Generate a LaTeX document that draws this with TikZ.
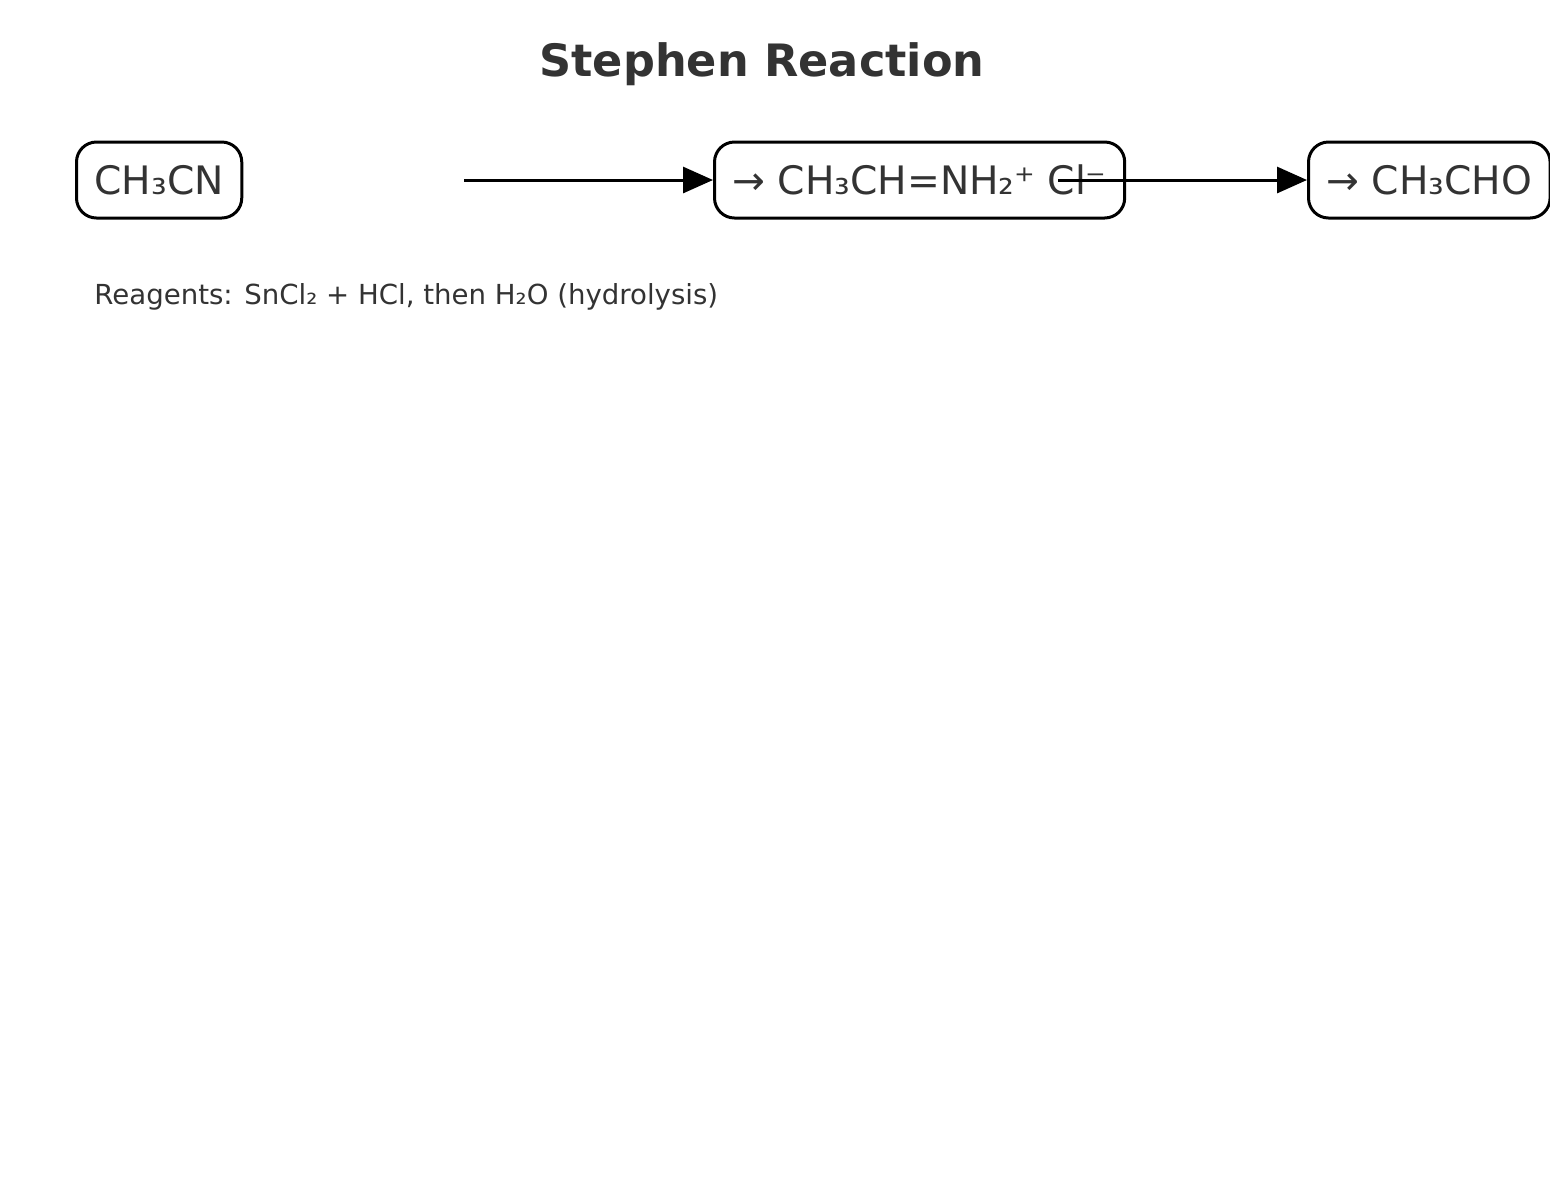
\documentclass[tikz,border=0pt]{standalone}
\usepackage{fontspec}
\setmainfont{DejaVu Sans}
\usetikzlibrary{arrows.meta}
\definecolor{txtgray}{HTML}{333333}
\tikzset{
  molbox/.style={draw=black, line width=1.5pt, rounded corners=10pt, anchor=west,
    inner xsep=9pt, minimum height=38pt, text=txtgray, font=\fontsize{19.6}{23}\selectfont},
  rxnarrow/.style={line width=1.5pt, -{Triangle[length=15pt,width=13pt]}}
}
\begin{document}
\begin{tikzpicture}[x=0.5pt,y=-0.5pt]
  \def\rowA{180};
  \useasboundingbox (0,0) rectangle (1550,1180);
  \node (title) at (762,64) [text=txtgray, font=\bfseries\fontsize{22.3}{26}\selectfont] {Stephen Reaction};
  %
  \node[molbox] (nitrile) at (75,\rowA) {CH₃CN};
  \node[molbox] (iminium) at (713,\rowA) {→ CH₃CH=NH₂⁺ Cl⁻};
  \node[molbox] (aldehyde) at (1307,\rowA) {→ CH₃CHO};
  %
  \coordinate (startA) at (464,\rowA);
  \coordinate (startB) at (1058,\rowA);
  \draw[rxnarrow] (startA) -- (iminium.west);
  \draw[rxnarrow] (startB) -- (aldehyde.west);
  %
  \node (reagents) at (94,297) [anchor=west, inner sep=0pt, text=txtgray, font=\fontsize{13.8}{17}\selectfont] {Reagents: SnCl₂ + HCl, then H₂O (hydrolysis)};
\end{tikzpicture}
\end{document}
